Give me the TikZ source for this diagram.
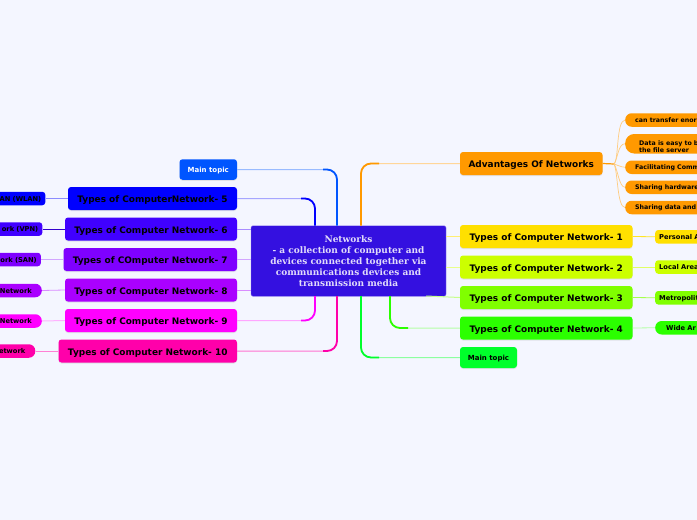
\documentclass[tikz,border=0pt]{standalone}
\usepackage{fontspec}
\setmainfont{DejaVu Sans}
\newfontfamily\titlefont{DejaVu Serif}
\usetikzlibrary{calc,shadows}
\definecolor{pagebg}{HTML}{F4F6FF}
\definecolor{colcenter}{HTML}{3410E0}
\definecolor{colmainl}{HTML}{0055FF}
\definecolor{colfive}{HTML}{0000FF}
\definecolor{colsix}{HTML}{4000FF}
\definecolor{colseven}{HTML}{7F00FF}
\definecolor{coleight}{HTML}{AA00FF}
\definecolor{colnine}{HTML}{FF00FF}
\definecolor{colten}{HTML}{FF00AA}
\definecolor{coladv}{HTML}{FF9900}
\definecolor{colone}{HTML}{FFE000}
\definecolor{coltwo}{HTML}{CCFF00}
\definecolor{colthree}{HTML}{80FF00}
\definecolor{colfour}{HTML}{2BFF00}
\definecolor{colmainr}{HTML}{00FF2B}
\tikzset{
  boxshadow/.style={drop shadow={opacity=.18,shadow xshift=0pt,shadow yshift=-1pt}},
  topicbox/.style={boxshadow,rounded corners=3pt,inner sep=0pt,minimum height=23pt,text height=8pt,text depth=0pt,
    font=\bfseries\fontsize{8.95}{11}\selectfont,text=black},
  mainbox/.style={boxshadow,rounded corners=3pt,inner sep=0pt,text depth=0pt,
    font=\bfseries\fontsize{7}{9}\selectfont},
  leafleft/.style={rounded corners=3pt,anchor=east,inner xsep=4pt,inner ysep=0pt,minimum height=13.5pt,text depth=0pt,
    text width=60pt,align=right,font=\bfseries\fontsize{6.7}{8}\selectfont,text=black},
  leafright/.style={rounded corners=3pt,anchor=west,inner xsep=4pt,inner ysep=0pt,minimum height=13.5pt,text depth=0pt,
    text width=90pt,align=left,font=\bfseries\fontsize{6.7}{8}\selectfont,text=black},
  leafadv/.style={leafright,fill=coladv,font=\bfseries\fontsize{6.3}{7.4}\selectfont},
  pill/.style={rounded corners=6.5pt},
  linkthick/.style={line width=1.8pt,rounded corners=10pt},
  linklight/.style={line width=1pt,rounded corners=10pt},
}
\begin{document}
\begin{tikzpicture}[x=1pt,y=-1pt]
\path[use as bounding box,clip] (0,0) rectangle (697,520);
\fill[pagebg] (0,0) rectangle (697,520);

% connector start points on the central box
\coordinate (ca) at (337,225.5);
\coordinate (cb) at (315,225.5);
\coordinate (cc) at (361,225.5);
\coordinate (cd) at (315,296);
\coordinate (ce) at (337,296);
\coordinate (cf) at (361,296);
\coordinate (cg) at (390,296);
\coordinate (ch) at (426,296);

% first level nodes
\node[draw=colcenter!55!white,fill=colcenter,rounded corners=2pt,minimum width=195pt,minimum height=70.5pt,inner sep=0pt,
  align=center,text=white!85!colcenter,font=\titlefont\bfseries\fontsize{9}{11}\selectfont] (center) at (348.5,261)
  {Networks\\- a collection of computer and\\devices connected together via\\communications devices and\\transmission media};

\node[mainbox,fill=colmainl,text=white,minimum width=57.5pt,minimum height=20.5pt] (mainl) at (208.25,169.5) {Main topic};
\node[topicbox,fill=colfive,minimum width=169pt] (tfive) at (152.5,198.5) {Types of ComputerNetwork- 5};
\node[topicbox,fill=colsix,minimum width=172pt] (tsix) at (151,229) {Types of Computer Network- 6};
\node[topicbox,fill=colseven,minimum width=173.5pt] (tseven) at (150.25,259.5) {Types of COmputer Network- 7};
\node[topicbox,fill=coleight,minimum width=172pt] (teight) at (151,290) {Types of Computer Network- 8};
\node[topicbox,fill=colnine,minimum width=172pt] (tnine) at (151,320.5) {Types of Computer Network- 9};
\node[topicbox,fill=colten,minimum width=178.5pt] (tten) at (147.75,351) {Types of Computer Network- 10};

\node[topicbox,fill=coladv,minimum width=142.5pt] (adv) at (531.25,163.5) {Advantages Of Networks};
\node[topicbox,fill=colone,minimum width=172.5pt] (tone) at (546.25,236.5) {Types of Computer Network- 1};
\node[topicbox,fill=coltwo,minimum width=172.5pt] (ttwo) at (546.25,267) {Types of Computer Network- 2};
\node[topicbox,fill=colthree,minimum width=172.5pt] (tthree) at (546.25,297.5) {Types of Computer Network- 3};
\node[topicbox,fill=colfour,minimum width=172.5pt] (tfour) at (546.25,328) {Types of Computer Network- 4};
\node[mainbox,fill=colmainr,text=black,minimum width=57pt,minimum height=21pt] (mainr) at (488.5,357.5) {Main topic};

% second level nodes, cut off by the page edge
\node[leafleft,fill=colfive] (wlan) at (45.5,198.5) {AN (WLAN)};
\node[leafleft,fill=colsix] (vpn) at (42.5,229) {ork (VPN)};
\node[leafleft,fill=colseven] (san) at (41,259.5) {ork (SAN)};
\node[leafleft,pill,fill=coleight,inner xsep=10pt] (neteight) at (42,290.5) {Network};
\node[leafleft,pill,fill=colnine,inner xsep=10pt] (netnine) at (42,321) {Network};
\node[leafleft,pill,fill=colten,inner xsep=10pt] (netten) at (35.5,351) {etwork};

\node[leafadv,pill,inner xsep=10pt] (advone) at (625,120) {can transfer enorm};
\node[leafadv,rounded corners=9pt,inner xsep=14pt,minimum height=19.5pt,text depth=1.5pt] (advtwo) at (625,143.75) {Data is easy to ba\\the file server};
\node[leafadv,pill,inner xsep=10pt] (advthree) at (625,167.25) {Facilitating Comm};
\node[leafadv,pill,inner xsep=10pt] (advfour) at (625,187.25) {Sharing hardware};
\node[leafadv,pill,inner xsep=10pt] (advfive) at (625,207.5) {Sharing data and i};
\node[leafright,fill=colone] (pers) at (655,236.75) {Personal A};
\node[leafright,fill=coltwo] (local) at (655,267) {Local Area};
\node[leafright,fill=colthree] (metro) at (655,297.75) {Metropolit};
\node[leafright,pill,fill=colfour,inner xsep=11pt] (wide) at (655,327.75) {Wide Ar};

% curved links from the central box
\draw[linklight,colmainl!40!white] (mainl.east) -| (ca);
\draw[linkthick,colmainl] ($(mainl.east -| ca)+(-14,0)$) -| (ca);
\draw[linklight,colfive!35!white] (tfive.east) -| (cb);
\draw[linkthick,colfive] ($(tfive.east -| cb)+(-14,0)$) -| (cb);
\draw[linklight,coladv!40!white] (adv.west) -| (cc);
\draw[linkthick,coladv] ($(adv.west -| cc)+(18,0)$) -| (cc);
\draw[linklight,colnine!35!white] (tnine.east) -| (cd);
\draw[linkthick,colnine] ($(tnine.east -| cd)+(-14,0)$) -| (cd);
\draw[linklight,colten!55!white] (tten.east) -| (ce);
\draw[linkthick,colten] ($(tten.east -| ce)+(-14,0)$) -| (ce);
\draw[linklight,colmainr!45!white] (mainr.west) -| (cf);
\draw[linkthick,colmainr] ($(mainr.west -| cf)+(18,0)$) -| (cf);
\draw[linklight,colfour!35!white] (tfour.west) -| (cg);
\draw[linkthick,colfour] ($(tfour.west -| cg)+(18,0)$) -| (cg);

% straight links from the central box
\draw[linklight,colsix!45!white] (tsix.east) -- (tsix.east -| center.west);
\draw[linklight,colseven!35!white] (tseven.east) -- (tseven.east -| center.west);
\draw[linklight,coleight!45!white] (teight.east) -- (teight.east -| center.west);
\draw[linklight,colone!55!white] (tone.west) -- (tone.west -| center.east);
\draw[linklight,coltwo!45!white] (ttwo.west) -- (ttwo.west -| center.east);
\draw[linklight,colthree!45!white] (tthree.west) -- (ch);

% links to the second level
\draw[line width=1.6pt,colfive!45!white] (tfive.west) -- (wlan.east);
\draw[line width=.9pt,colsix!80!black] (tsix.west) -- (vpn.east);
\draw[line width=1.2pt,colseven!35!white] (tseven.west) -- (san.east);
\draw[line width=.8pt,coleight!45!white] (teight.west) -- (neteight.east);
\draw[line width=1pt,colnine!30!white] (tnine.west) -- (netnine.east);
\draw[line width=.8pt,colten!50!white] (tten.west) -- (netten.east);
\draw[line width=.8pt,colone!85!white] (tone.east) -- (pers.west);
\draw[line width=.8pt,coltwo!60!white] (ttwo.east) -- (local.west);
\draw[line width=.8pt,colthree!70!white] (tthree.east) -- (metro.west);
\draw[line width=.8pt,colfour!35!white] (tfour.east) -- (wide.west);

% fan of links on the right
\coordinate (fan) at (614,164);
\draw[line width=1.2pt,coladv] (adv.east) -- (fan);
\draw[line width=.7pt,coladv!50!white] (fan) .. controls (619,160) and (616,121) .. (advone.west);
\draw[line width=.7pt,coladv!50!white] (fan) .. controls (618,158) and (618,144) .. (advtwo.west);
\draw[line width=.7pt,coladv!50!white] (fan) .. controls (618,165) and (620,167) .. (advthree.west);
\draw[line width=.7pt,coladv!50!white] (fan) .. controls (618,170) and (619,187) .. (advfour.west);
\draw[line width=.7pt,coladv!50!white] (fan) .. controls (618,172) and (617,207) .. (advfive.west);
\end{tikzpicture}
\end{document}
